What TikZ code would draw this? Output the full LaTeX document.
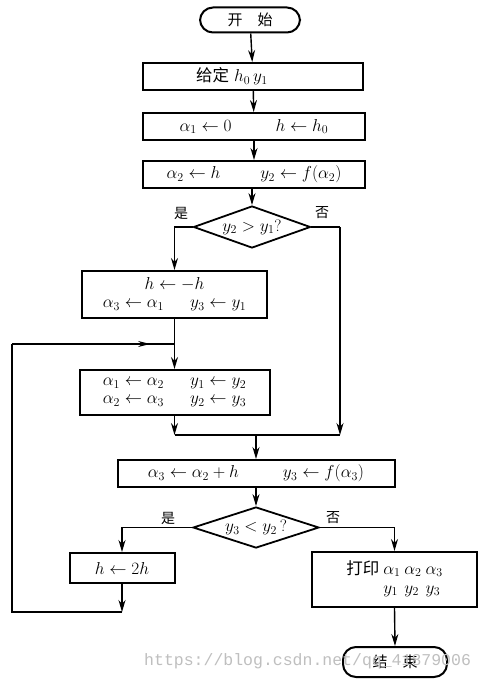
\documentclass[tikz,border=0pt]{standalone}
\usepackage{fontspec}
\newfontfamily\cjk{Noto Sans CJK SC}
\newfontfamily\wmfont{Liberation Mono}
\usetikzlibrary{shapes.geometric,arrows.meta,decorations.markings}
\begin{document}
\begin{tikzpicture}[x=1pt,y=-1pt,
  font=\fontsize{16.5}{18}\selectfont,
  box/.style={draw,line width=2pt,rectangle,inner sep=0pt,align=center},
  term/.style={draw,line width=2pt,rectangle,rounded corners=13pt,inner sep=0pt},
  dia/.style={draw,line width=1.8pt,diamond,inner sep=0pt,aspect=2.8},
  line/.style={line width=1.4pt},
  arr/.style={line width=1.4pt,-{Stealth[length=12pt,width=7pt]}},
  midarr/.style={line width=1.4pt,postaction={decorate},decoration={markings,mark=at position #1 with {\arrow{Stealth[length=12pt,width=6pt]}}}},
  lab/.style={inner sep=0pt,font=\cjk\fontsize{14}{16}\selectfont}
]
\useasboundingbox (0,0) rectangle (485,682);
\fill[white] (0,0) rectangle (485,682);

\node[term,minimum width=100pt,minimum height=25pt] (start) at (250,20) {\cjk\fontsize{15}{16}\selectfont 开\hspace{1em}始};
\node[box,minimum width=220pt,minimum height=27pt] (b1) at (253,76.5) {{\cjk 给定} $h_0\,y_1$\hspace{42pt}};
\node[box,minimum width=222pt,minimum height=27pt] (b2) at (254,126.5) {$\alpha_1\leftarrow 0$\hspace{44pt}$h\leftarrow h_0$};
\node[box,minimum width=222pt,minimum height=27pt] (b3) at (254,174.5) {$\alpha_2\leftarrow h$\hspace{40pt}$y_2\leftarrow f(\alpha_2)$};
\node[dia,minimum width=117pt,minimum height=42pt] (d1) at (252,227) {$y_2>y_1$?};
\node[lab] (yes1) at (181,213) {是};
\node[lab] (no1) at (322,213) {否};
\node[box,minimum width=185pt,minimum height=47pt] (b4) at (174.5,294.5)
  {$h\leftarrow -h$\\ $\alpha_3\leftarrow\alpha_1$\hspace{26pt}$y_3\leftarrow y_1$};
\coordinate (j1) at (174.5,344);
\node[box,minimum width=190pt,minimum height=45pt] (b5) at (174.5,392.5)
  {$\alpha_1\leftarrow\alpha_2$\hspace{26pt}$y_1\leftarrow y_2$\\ $\alpha_2\leftarrow\alpha_3$\hspace{26pt}$y_2\leftarrow y_3$};
\coordinate (j2) at (174.5,435);
\coordinate (r1) at (340,227);
\coordinate (r2) at (340,435);
\coordinate (j3) at (256,435);
\node[box,minimum width=277pt,minimum height=27pt] (b6) at (256,473.5)
  {$\alpha_3\leftarrow\alpha_2+h$\hspace{44pt}$y_3\leftarrow f(\alpha_3)$};
\node[dia,minimum width=126pt,minimum height=41pt] (d2) at (256,527.5) {$y_3<y_2$\,?};
\node[lab] (yes2) at (168,518) {是};
\node[lab] (no2) at (333,518) {否};
\node[box,minimum width=105pt,minimum height=30pt] (b7) at (122,568) {$h\leftarrow 2h$};
\coordinate (l1) at (122,612);
\coordinate (l2) at (12,612);
\coordinate (l3) at (12,344);
\node[box,minimum width=165pt,minimum height=55pt] (b8) at (394.5,579.5)
  {\begin{tabular}{@{}l@{\hspace{4pt}}l@{\hspace{4pt}}l@{\hspace{4pt}}l@{}}{\cjk 打印} & $\alpha_1$ & $\alpha_2$ & $\alpha_3$\\[1pt] & $y_1$ & $y_2$ & $y_3$\end{tabular}};
\node[term,minimum width=104pt,minimum height=30pt] (end) at (395,662) {\cjk\fontsize{15}{16}\selectfont 结\hspace{1em}束};

% connectors
\draw[arr] (start) -- (b1);
\draw[arr] (b1) -- (b2);
\draw[arr] (b2) -- (b3);
\draw[arr] (b3.south -| d1.north) -- (d1.north);
\draw[arr] (d1.west) -| (b4.north);
\draw[line] (d1.east) -- (r1);
\draw[arr] (r1) -- (r2);
\draw[line] (b4.south) -- (j1);
\draw[arr] (j1) -- (b5.north);
\draw[arr] (b5.south) -- (j2);
\draw[line] (j2) -- (r2);
\draw[arr] (j3) -- (b6.north);
\draw[arr] (b6.south -| d2.north) -- (d2.north);
\draw[arr] (d2.west) -| (b7.north);
\draw[arr] (b7.south) -- (l1);
\draw[line] (l1) -- (l2) -- (l3);
\draw[midarr=0.85] (l3) -- (j1);
\draw[arr] (d2.east) -| (b8.north);
\draw[arr] (b8.south) -- (end.north);

\node[inner sep=0pt,anchor=west,text=black!25,font=\wmfont\fontsize{16.5}{18}\selectfont] (wm) at (144,661) {https://blog.csdn.net/qq\_41879006};
\end{tikzpicture}
\end{document}
